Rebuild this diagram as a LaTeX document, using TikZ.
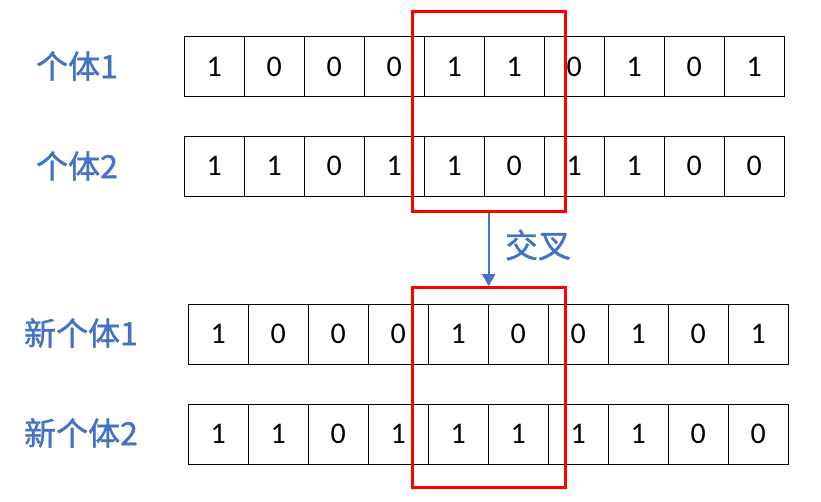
\documentclass[tikz,border=0pt]{standalone}
\usepackage{fontspec}
\setmainfont{Carlito}
\newfontfamily\cjk{Noto Sans CJK SC}[FakeBold=1.2]
\usetikzlibrary{arrows.meta}
\definecolor{lblue}{RGB}{68,114,196}
\definecolor{bred}{RGB}{255,0,0}
\begin{document}
\begin{tikzpicture}[x=1pt,y=-1pt,
  cell/.style={draw, line width=1.2pt, minimum width=60pt, minimum height=60pt, inner sep=0pt, font=\fontsize{30}{30}\selectfont},
  lbl/.style={text=lblue, font=\cjk\fontsize{32}{32}\selectfont, inner sep=0pt},
  redbox/.style={draw=bred, line width=3pt, minimum width=152.7pt, minimum height=199.8pt, inner sep=0pt},
  flow/.style={draw=lblue, line width=2.4pt, -{Triangle[width=13pt,length=12pt]}}]
\useasboundingbox (0,0) rectangle (821,502);
\fill[white] (0,0) rectangle (821,502);
\foreach \v [count=\i from 0] in {1,0,0,0,1,1,0,1,0,1}
  \node[cell] (a\i) at ({214.3+60*\i}, 66.4) {\v};
\foreach \v [count=\i from 0] in {1,1,0,1,1,0,1,1,0,0}
  \node[cell] (b\i) at ({214.3+60*\i}, 166.3) {\v};
\foreach \v [count=\i from 0] in {1,0,0,0,1,0,0,1,0,1}
  \node[cell] (c\i) at ({218.3+60*\i}, 334.3) {\v};
\foreach \v [count=\i from 0] in {1,1,0,1,1,1,1,1,0,0}
  \node[cell] (d\i) at ({218.3+60*\i}, 434.3) {\v};
\node[lbl] (l1) at (77,66) {个体1};
\node[lbl] (l2) at (77,166) {个体2};
\node[lbl] (l3) at (81,333) {新个体1};
\node[lbl] (l4) at (81,433) {新个体2};
\node[redbox] (box1) at (488.7,111.3) {};
\node[redbox] (box2) at (488.7,387.5) {};
\draw[flow] (box1.south) -- (box2.north);
\node[lbl, font=\cjk\fontsize{33}{33}\selectfont] (cx) at (538,245) {交叉};
\end{tikzpicture}
\end{document}
